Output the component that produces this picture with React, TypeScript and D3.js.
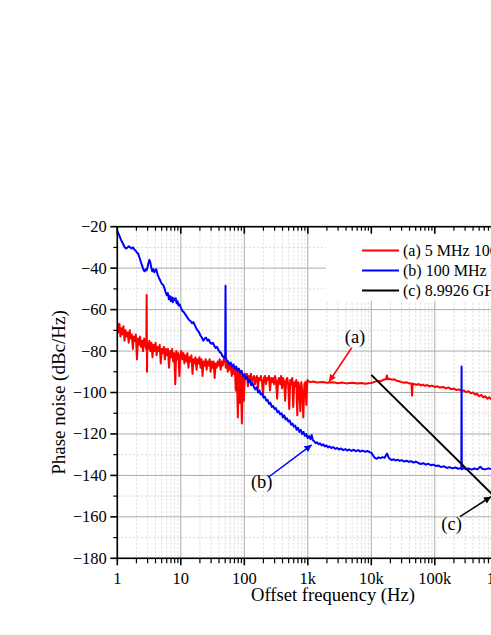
import React from 'react'
import * as d3 from 'd3'

// (a) 5 MHz reference, [offset Hz, dBc/Hz]
const curveA: [number, number][] = [
  [1.0, -66], [1.04, -71], [1.08, -67], [1.12, -73], [1.16, -69], [1.21, -72], [1.25, -68], [1.3, -75],
  [1.35, -70], [1.4, -73], [1.46, -71], [1.51, -76], [1.57, -70], [1.63, -74], [1.69, -72], [1.76, -79],
  [1.82, -73], [1.89, -75], [1.96, -72], [2.04, -84], [2.12, -74], [2.2, -77], [2.28, -73], [2.37, -78],
  [2.46, -75], [2.55, -80], [2.65, -74], [2.75, -77], [2.86, -79], [2.9, -53], [2.94, -90], [2.97, -76],
  [3.08, -79], [3.2, -75], [3.32, -80], [3.45, -76], [3.58, -83], [3.72, -77], [3.86, -80], [4.01, -76],
  [4.16, -82], [4.32, -78], [4.48, -80], [4.65, -77], [4.83, -86], [5.02, -79], [5.21, -81], [5.41, -78],
  [5.61, -84], [5.83, -79], [6.05, -82], [6.28, -79], [6.52, -88], [6.77, -80], [7.03, -83], [7.3, -79],
  [7.58, -85], [7.87, -81], [8.17, -96], [8.48, -80], [8.8, -84], [9.14, -81], [9.49, -92], [9.85, -82],
  [10.2, -80], [10.6, -84], [11.0, -81], [11.4, -86], [11.8, -82], [12.3, -85], [12.7, -81], [13.2, -88],
  [13.7, -83], [14.2, -85], [14.7, -82], [15.3, -91], [15.8, -84], [16.4, -86], [17.0, -83], [17.7, -89],
  [18.3, -84], [19.0, -86], [19.7, -83], [20.5, -88], [21.2, -84], [22.0, -92], [22.8, -85], [23.7, -87],
  [24.6, -84], [25.5, -89], [26.4, -85], [27.4, -87], [28.4, -84], [29.5, -90], [30.6, -85], [31.7, -88],
  [32.9, -85], [34.1, -93], [35.4, -86], [36.7, -88], [38.1, -85], [39.5, -87], [41.0, -84], [42.5, -89],
  [44.1, -85], [45.7, -87], [47.4, -84], [49.2, -82], [51.0, -88], [52.9, -85], [54.9, -90], [56.9, -86],
  [59.0, -89], [61.2, -87], [63.5, -92], [65.9, -88], [68.3, -91], [70.9, -88], [73.5, -99], [76.2, -89],
  [79.1, -112], [82.0, -90], [85.0, -105], [88.2, -91], [91.5, -115], [94.9, -92], [98.4, -104], [102, -91],
  [106, -93], [110, -91], [114, -97], [118, -92], [122, -94], [127, -91], [132, -95], [137, -93],
  [142, -92], [147, -96], [153, -93], [158, -92], [164, -98], [170, -93], [177, -94], [183, -92],
  [190, -95], [197, -101], [204, -93], [212, -92], [220, -96], [228, -93], [236, -94], [245, -92],
  [254, -99], [264, -93], [273, -95], [284, -93], [294, -96], [305, -92], [317, -95], [329, -103],
  [341, -94], [353, -93], [367, -96], [380, -92], [394, -98], [409, -93], [425, -95], [440, -104],
  [457, -94], [474, -93], [491, -96], [510, -108], [529, -94], [548, -96], [569, -93], [590, -107],
  [612, -95], [635, -97], [658, -94], [683, -111], [708, -95], [735, -97], [762, -109], [790, -95],
  [820, -100], [850, -112], [882, -96], [915, -95], [949, -106], [984, -94],
  [1020, -94.5], [1100, -95], [1200, -94.7], [1400, -95.2], [1700, -94.9], [2000, -95.3], [2500, -95.1],
  [3000, -95.5], [3500, -95.2], [4000, -95.6], [5000, -95.3], [6000, -95.7], [7000, -95.4], [8000, -95.8],
  [9000, -95.5], [10000, -95.4], [11000, -95], [12500, -94.4], [14000, -94.6], [15500, -93.8], [17000, -93.6],
  [17600, -91.8], [18200, -93.6], [19500, -93.4], [21000, -93.8], [23000, -93.6], [25000, -94.3], [27500, -94.6],
  [30000, -95], [33000, -95.3], [36000, -95.1], [40000, -95.7], [43000, -95.6], [43800, -101.5], [44600, -95.8],
  [48000, -96], [52000, -96.3], [56000, -95.9], [60000, -96.6], [65000, -96.2], [70000, -96.8], [76000, -96.4],
  [83000, -97], [90000, -96.7], [100000, -97.3], [110000, -97], [120000, -97.6], [135000, -97.3], [150000, -98],
  [165000, -97.6], [180000, -98.4], [200000, -98.1], [220000, -98.8], [240000, -98.5], [260000, -99.2],
  [285000, -99], [310000, -99.8], [340000, -99.4], [370000, -100.4], [400000, -100], [430000, -101],
  [460000, -100.6], [500000, -101.8], [540000, -101.2], [580000, -102.4], [620000, -101.8], [670000, -103],
  [720000, -102.3], [780000, -103.4], [850000, -102.8], [920000, -103.6], [1000000, -103.2],
]

// (b) 100 MHz oscillator
const curveB: [number, number][] = [
  [1.0, -22], [1.05, -23.5], [1.1, -25], [1.15, -26.5], [1.2, -27.5], [1.26, -29], [1.32, -30], [1.38, -30.5],
  [1.45, -30], [1.52, -29.5], [1.6, -30], [1.68, -30.5], [1.76, -30], [1.85, -31], [1.94, -31.5], [2.03, -32.5],
  [2.13, -33], [2.24, -35], [2.35, -37], [2.47, -39], [2.6, -41], [2.7, -41.5], [2.8, -40.5], [2.9, -41],
  [3.0, -39.5], [3.1, -37.5], [3.2, -36], [3.3, -37], [3.42, -39.5], [3.55, -41.5], [3.68, -40.5], [3.82, -42],
  [3.95, -41], [4.1, -40.5], [4.3, -43], [4.5, -44.5], [4.75, -46], [5.0, -47.5], [5.25, -48], [5.5, -49.5],
  [5.75, -51.5], [6.0, -53], [6.25, -52], [6.5, -55], [6.75, -53.5], [7.0, -56], [7.25, -54], [7.5, -56.5],
  [7.75, -54.5], [8.0, -55.5], [8.3, -54.5], [8.6, -57], [8.9, -56], [9.2, -58], [9.6, -57.5], [10, -59],
  [10.5, -60.5], [11, -61], [11.6, -62], [12.2, -63], [12.8, -64], [13.5, -65], [14.2, -65.5], [15, -66.5],
  [15.8, -66], [16.6, -67.5], [17.5, -69], [18.4, -70], [19.4, -71], [20.4, -72.5], [21.5, -73.5], [22.6, -75],
  [23.8, -74], [25, -73.5], [26.3, -75], [27.6, -74.5], [29, -76], [30.5, -76.5], [32, -76], [33.7, -77.5],
  [35.4, -78.5], [37.2, -78], [39.1, -79.5], [41.1, -80.5], [43.2, -81], [45.4, -82.5], [47.7, -83], [50.0, -83.5],
  [50.6, -48.5], [51.2, -83], [52.6, -84.5], [55.3, -85], [58.1, -86.5], [61, -85.5], [64.1, -87.5], [67.4, -86.5],
  [70.8, -88.5], [74.4, -87.5], [78.2, -89.5], [82.2, -88.5], [86.4, -90.5], [90.8, -89.5], [95.4, -92], [100, -91.5],
  [105, -93.5], [110, -92.5], [116, -95], [122, -94], [128, -96.5], [135, -95.5], [142, -97.5], [149, -98.5],
  [157, -97.5], [165, -100], [173, -99], [182, -101], [191, -100.5], [201, -102.5], [211, -102], [222, -104],
  [233, -103.5], [245, -105.5], [258, -105], [271, -107], [285, -106.5], [300, -108], [315, -107.5], [331, -109.5],
  [348, -109], [366, -110.5], [385, -110], [405, -112], [425, -111], [447, -113], [470, -112.5], [494, -114],
  [519, -113.5], [546, -115.5], [574, -115], [603, -116.5], [634, -116], [666, -118], [700, -117], [736, -119],
  [774, -118], [813, -120], [855, -119], [899, -121], [945, -120], [993, -122], [1040, -121], [1100, -122.5],
  [1150, -120.5], [1200, -123], [1260, -123.5], [1330, -124.5], [1400, -124], [1480, -125], [1560, -124.5],
  [1650, -125.5], [1750, -125], [1850, -126], [1960, -125.5], [2080, -126.5], [2200, -126], [2350, -126.8],
  [2500, -126.3], [2700, -127.2], [2900, -126.8], [3100, -127.5], [3350, -127], [3600, -127.8], [3900, -127.3],
  [4200, -128], [4500, -127.5], [4900, -128.2], [5300, -127.6], [5700, -128.3], [6200, -127.8], [6700, -128.5],
  [7300, -128], [8000, -128.6], [8700, -128.2], [9400, -128.8], [10000, -129], [10700, -130.5], [11400, -131.5],
  [12200, -132], [13000, -131.3], [14000, -131.7], [15000, -131.2], [16200, -131.5], [17200, -130], [17800, -129.5],
  [18500, -131], [19500, -132], [21000, -132.6], [22500, -132.2], [24000, -132.8], [26000, -132.4], [28000, -133],
  [30000, -132.6], [33000, -133.3], [36000, -132.9], [39000, -133.5], [42000, -133.1], [46000, -133.8],
  [50000, -133.4], [55000, -134], [60000, -134.5], [66000, -134.1], [72000, -134.8], [79000, -134.4],
  [87000, -135.1], [95000, -134.8], [105000, -135.5], [115000, -135.2], [125000, -136], [140000, -135.6],
  [155000, -136.4], [170000, -136], [190000, -136.6], [210000, -136.2], [235000, -136.8], [255000, -136.5],
  [262000, -136.8], [264000, -87.5], [266000, -137], [280000, -136.5], [310000, -137], [340000, -136.6],
  [380000, -137.2], [420000, -136.7], [470000, -137.1], [520000, -135.8], [560000, -136.8], [620000, -137.1],
  [700000, -136.6], [800000, -137], [900000, -136.7], [1000000, -137],
]

// (c) 8.9926 GHz output
const curveC: [number, number][] = [
  [10000, -91.5], [1000000, -152],
]

const xTickValues = [1, 10, 100, 1e3, 1e4, 1e5, 1e6]
const xTickLabels = ['1', '10', '100', '1k', '10k', '100k', '1M']
const yTickValues = [-180, -160, -140, -120, -100, -80, -60, -40, -20]
const yMinorValues = [-170, -150, -130, -110, -90, -70, -50, -30]

const legendLabels = ['(a) 5 MHz 100 MHz', '(b) 100 MHz VCXO', '(c) 8.9926 GHz']
const seriesColors = ['#ff0000', '#0000ff', '#000000']

// annotations: label position and arrow start/end, in data units
const annotations = [
  { text: '(a)', color: '#ff0000', label: [5540, -76.2], from: [4910, -78.4], to: [2160, -94.8] },
  { text: '(b)', color: '#0000ff', label: [188, -146.1], from: [239, -140.9], to: [1150, -125.3] },
  { text: '(c)', color: '#000000', label: [184000, -166.4], from: [249000, -159.9], to: [767000, -150.3] },
]

const W = 491
const H = 635
const margin = { top: 226.7, left: 117.3, right: 498.3, bottom: 558.3 }
const FONT = '"Liberation Serif", "Times New Roman", serif'

export default function App() {
  const x = d3.scaleLog().domain([1, 1e6]).range([margin.left, margin.right])
  const y = d3.scaleLinear().domain([-180, -20]).range([margin.bottom, margin.top])

  const line = d3.line<[number, number]>()
    .x(d => x(d[0]))
    .y(d => y(d[1]))

  const minorX = x.ticks().filter(t => !xTickValues.includes(t))

  return (
    <svg
      width={W}
      height={H}
      style={{ position: 'absolute', left: 0, top: 0, background: '#fff' }}
      fontFamily={FONT}
    >
      <defs>
        <clipPath id="plot">
          <rect x={margin.left} y={margin.top} width={margin.right - margin.left} height={margin.bottom - margin.top} />
        </clipPath>
        {seriesColors.map((c, i) => (
          <marker key={i} id={`arr${i}`} viewBox="0 0 10 10" refX={10} refY={5}
            markerWidth={8} markerHeight={7} markerUnits="userSpaceOnUse" orient="auto">
            <path d="M0,0 L10,5 L0,10 z" fill={c} />
          </marker>
        ))}
      </defs>

      {/* минорная сетка */}
      <g stroke="#cfcfcf" strokeWidth={0.8} strokeDasharray="2,2">
        {minorX.map(t => (
          <line key={`mx${t}`} x1={x(t)} x2={x(t)} y1={margin.top} y2={margin.bottom} />
        ))}
        {yMinorValues.map(t => (
          <line key={`my${t}`} x1={margin.left} x2={margin.right} y1={y(t)} y2={y(t)} />
        ))}
      </g>
      {/* основная сетка */}
      <g stroke="#acacac" strokeWidth={1}>
        {xTickValues.map(t => (
          <line key={`gx${t}`} x1={x(t)} x2={x(t)} y1={margin.top} y2={margin.bottom} />
        ))}
        {yTickValues.map(t => (
          <line key={`gy${t}`} x1={margin.left} x2={margin.right} y1={y(t)} y2={y(t)} />
        ))}
      </g>

      {/* легенда закрывает сетку */}
      <rect x={326} y={margin.top + 1} width={200} height={73} fill="#fff" />

      <g clipPath="url(#plot)" fill="none" strokeWidth={2} strokeLinejoin="round">
        <path d={line(curveA) || ''} stroke={seriesColors[0]} />
        <path d={line(curveB) || ''} stroke={seriesColors[1]} />
        <path d={line(curveC) || ''} stroke={seriesColors[2]} />
      </g>

      {/* легенда */}
      {legendLabels.map((lab, i) => (
        <g key={lab} transform={`translate(362,${250.5 + i * 20})`}>
          <line x1={0} x2={37} y1={0} y2={0} stroke={seriesColors[i]} strokeWidth={2.2} />
          <text x={41} y={5.5} fontSize={16} fill="#000">{lab}</text>
        </g>
      ))}

      {/* подписи со стрелками */}
      {annotations.map((a, i) => (
        <g key={a.text}>
          <line x1={x(a.from[0])} y1={y(a.from[1])} x2={x(a.to[0])} y2={y(a.to[1])}
            stroke={a.color} strokeWidth={1.5} markerEnd={`url(#arr${i})`} />
          <text x={x(a.label[0])} y={y(a.label[1])} textAnchor="middle" fontSize={18.5} fill="#000">{a.text}</text>
        </g>
      ))}

      {/* рамка и засечки */}
      <g stroke="#000" strokeWidth={1.6} fill="none">
        <rect x={margin.left} y={margin.top} width={margin.right - margin.left} height={margin.bottom - margin.top} />
        {xTickValues.map(t => (
          <g key={`tx${t}`}>
            <line x1={x(t)} x2={x(t)} y1={margin.bottom} y2={margin.bottom + 7} />
            <line x1={x(t)} x2={x(t)} y1={margin.top} y2={margin.top + 7} />
          </g>
        ))}
        {minorX.map(t => (
          <g key={`tmx${t}`} strokeWidth={1.2}>
            <line x1={x(t)} x2={x(t)} y1={margin.bottom} y2={margin.bottom + 5} />
            <line x1={x(t)} x2={x(t)} y1={margin.top} y2={margin.top + 4} />
          </g>
        ))}
        {yTickValues.map(t => (
          <line key={`ty${t}`} x1={margin.left - 7} x2={margin.left} y1={y(t)} y2={y(t)} />
        ))}
        {yMinorValues.map(t => (
          <line key={`tmy${t}`} x1={margin.left - 4} x2={margin.left} y1={y(t)} y2={y(t)} strokeWidth={1.2} />
        ))}
      </g>

      <g fontSize={16.5} fill="#000">
        {xTickValues.map((t, i) => (
          <text key={`lx${t}`} x={x(t)} y={margin.bottom + 25.7} textAnchor="middle">{xTickLabels[i]}</text>
        ))}
        {yTickValues.map(t => (
          <text key={`ly${t}`} x={margin.left - 10.5} y={y(t) + 5.5} textAnchor="end">{String(t).replace('-', '\u2212')}</text>
        ))}
      </g>

      <text x={333} y={601} textAnchor="middle" fontSize={18.6} fill="#000">Offset frequency (Hz)</text>
      <text transform={`translate(65,${(margin.top + margin.bottom) / 2}) rotate(-90)`}
        textAnchor="middle" fontSize={19} fill="#000">Phase noise (dBc/Hz)</text>
    </svg>
  )
}
